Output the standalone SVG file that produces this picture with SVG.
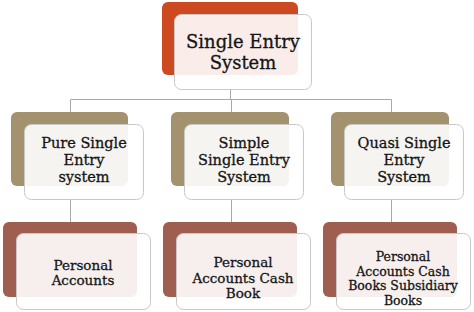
<svg xmlns="http://www.w3.org/2000/svg" width="474" height="312" viewBox="0 0 474 312">
<style>
.front{fill:#ffffff;fill-opacity:0.9;stroke:#c8c8c8;stroke-width:1}
.t{font-family:"DejaVu Serif","Liberation Serif",serif;fill:#151515;stroke:#151515;stroke-width:0.3;text-anchor:middle}
.conn{stroke:#a8a8a8;stroke-width:1;fill:none}
</style>
<rect width="474" height="312" fill="#ffffff"/>
<g id="connectors">
<path class="conn" d="M230.5 90V99.5M70.5 99.5H391.5M70.5 99.5V112M231.5 99.5V112M391.5 99.5V112"/>
<path class="conn" d="M70.5 200V222M231.5 200V222M391.5 200V222"/>
</g>
<g id="n-top">
<rect x="162" y="2" width="136" height="73" rx="6" fill="#cd4a20"/>
<rect class="front" x="174.5" y="14.5" width="137" height="75" rx="7"/>
<text class="t" font-size="18" x="243" y="48">Single Entry</text>
<text class="t" font-size="18" x="243" y="69">System</text>
</g>
<g id="n-pure">
<rect x="11" y="112" width="117" height="74" rx="6" fill="#a4926f"/>
<rect class="front" x="24.5" y="124.5" width="119" height="75" rx="7"/>
<text class="t" font-size="14.5" x="84" y="148">Pure Single</text>
<text class="t" font-size="14.5" x="84" y="165">Entry</text>
<text class="t" font-size="14.5" x="84" y="182">system</text>
</g>
<g id="n-simple">
<rect x="171" y="112" width="118" height="74" rx="6" fill="#a4926f"/>
<rect class="front" x="184.5" y="124.5" width="119" height="75" rx="7"/>
<text class="t" font-size="14.5" x="244" y="148">Simple</text>
<text class="t" font-size="14.5" x="244" y="165">Single Entry</text>
<text class="t" font-size="14.5" x="244" y="182">System</text>
</g>
<g id="n-quasi">
<rect x="331" y="112" width="118" height="74" rx="6" fill="#a4926f"/>
<rect class="front" x="344.5" y="124.5" width="119" height="75" rx="7"/>
<text class="t" font-size="14.5" x="404" y="148">Quasi Single</text>
<text class="t" font-size="14.5" x="404" y="165">Entry</text>
<text class="t" font-size="14.5" x="404" y="182">System</text>
</g>
<g id="n-pa">
<rect x="3" y="222" width="134" height="75" rx="6" fill="#9e5e50"/>
<rect class="front" x="16.5" y="233.5" width="134" height="76" rx="7"/>
<text class="t" font-size="13.5" x="83" y="270">Personal</text>
<text class="t" font-size="13.5" x="83" y="285">Accounts</text>
</g>
<g id="n-pacb">
<rect x="163" y="222" width="134" height="75" rx="6" fill="#9e5e50"/>
<rect class="front" x="176.5" y="233.5" width="134" height="76" rx="7"/>
<text class="t" font-size="13.5" x="243" y="267">Personal</text>
<text class="t" font-size="13.5" x="243" y="282.5">Accounts Cash</text>
<text class="t" font-size="13.5" x="243" y="298">Book</text>
</g>
<g id="n-pacbs">
<rect x="323" y="222" width="134" height="75" rx="6" fill="#9e5e50"/>
<rect class="front" x="336.5" y="233.5" width="134" height="76" rx="7"/>
<text class="t" font-size="12.5" x="403" y="261">Personal</text>
<text class="t" font-size="12.5" x="403" y="275.5">Accounts Cash</text>
<text class="t" font-size="12.5" x="403" y="290">Books Subsidiary</text>
<text class="t" font-size="12.5" x="403" y="304.5">Books</text>
</g>
</svg>
